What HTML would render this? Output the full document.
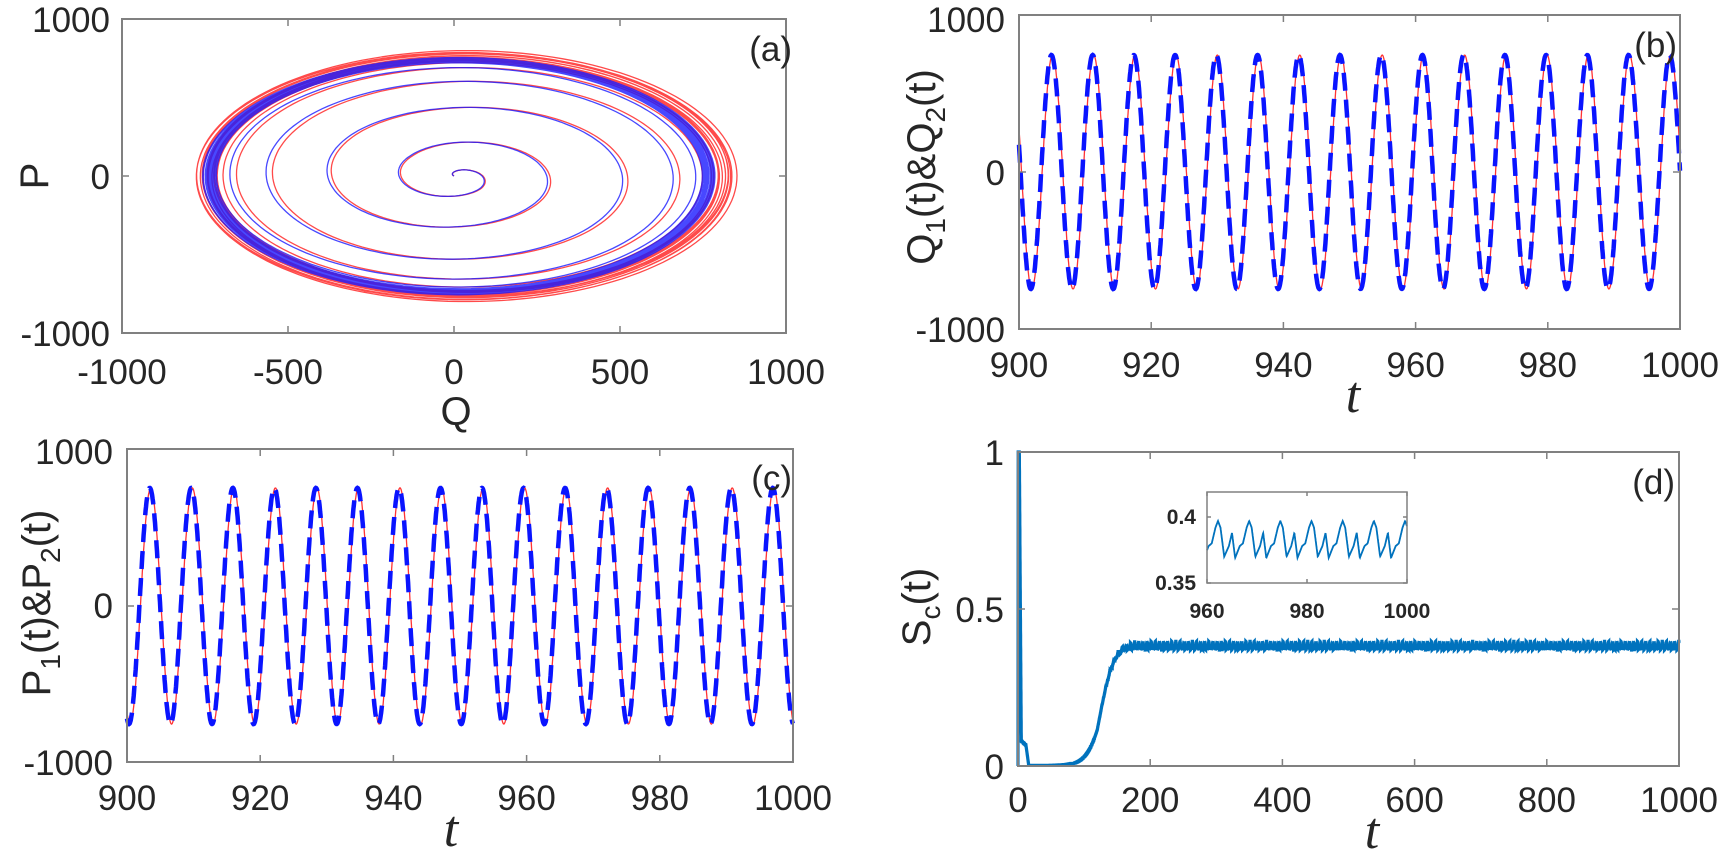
<!DOCTYPE html>
<html><head><meta charset="utf-8"><style>
html,body{margin:0;padding:0;background:#fff}
svg{display:block}
text{font-family:"Liberation Sans",sans-serif;fill:#262626}
.tk{font-size:35px}
.lab{font-size:40px}
.it{font-family:"Liberation Serif",serif;font-style:italic;font-size:52px}
.ins{font-size:21px;font-weight:bold}
</style></head><body>
<svg id="s" width="1720" height="859" viewBox="0 0 1720 859" xmlns="http://www.w3.org/2000/svg">
<g id="plots"></g>
<g fill="none" stroke="#808080" stroke-width="2">
<rect x="122" y="19" width="664" height="314"/>
<rect x="1019" y="15" width="661" height="314"/>
<rect x="127" y="449" width="666" height="313"/>
<rect x="1018" y="452" width="661" height="314"/>
<rect x="1207" y="492" width="200" height="91" stroke-width="1.5"/>
</g>
<g id="ticks" stroke="#808080" stroke-width="1.5"></g>
<text class="tk" x="110" y="32" text-anchor="end">1000</text>
<text class="tk" x="110" y="189" text-anchor="end">0</text>
<text class="tk" x="110" y="346" text-anchor="end">-1000</text>
<text class="tk" x="122" y="384" text-anchor="middle">-1000</text>
<text class="tk" x="288" y="384" text-anchor="middle">-500</text>
<text class="tk" x="454" y="384" text-anchor="middle">0</text>
<text class="tk" x="620" y="384" text-anchor="middle">500</text>
<text class="tk" x="786" y="384" text-anchor="middle">1000</text>
<text class="lab" x="456" y="425" text-anchor="middle">Q</text>
<text class="lab" transform="translate(48,176) rotate(-90)" text-anchor="middle">P</text>
<text class="tk" x="792" y="61" text-anchor="end">(a)</text>
<text class="tk" x="1005" y="32" text-anchor="end">1000</text>
<text class="tk" x="1005" y="185" text-anchor="end">0</text>
<text class="tk" x="1005" y="342" text-anchor="end">-1000</text>
<g id="bx"></g>
<text class="it" x="1353" y="412" text-anchor="middle">t</text>
<text class="lab" transform="translate(935,167) rotate(-90)" text-anchor="middle">Q<tspan font-size="28" dy="10">1</tspan><tspan dy="-10">(t)&amp;Q</tspan><tspan font-size="28" dy="10">2</tspan><tspan dy="-10">(t)</tspan></text>
<text class="tk" x="1677" y="57" text-anchor="end">(b)</text>
<text class="tk" x="113" y="464" text-anchor="end">1000</text>
<text class="tk" x="113" y="618" text-anchor="end">0</text>
<text class="tk" x="113" y="775" text-anchor="end">-1000</text>
<g id="cx"></g>
<text class="it" x="451" y="846" text-anchor="middle">t</text>
<text class="lab" transform="translate(50,603) rotate(-90)" text-anchor="middle">P<tspan font-size="28" dy="10">1</tspan><tspan dy="-10">(t)&amp;P</tspan><tspan font-size="28" dy="10">2</tspan><tspan dy="-10">(t)</tspan></text>
<text class="tk" x="792" y="490" text-anchor="end">(c)</text>
<text class="tk" x="1004" y="465" text-anchor="end">1</text>
<text class="tk" x="1004" y="622" text-anchor="end">0.5</text>
<text class="tk" x="1004" y="779" text-anchor="end">0</text>
<g id="dx"></g>
<text class="it" x="1372" y="848" text-anchor="middle">t</text>
<text class="lab" transform="translate(930,607) rotate(-90)" text-anchor="middle">S<tspan font-size="28" dy="10">c</tspan><tspan dy="-10">(t)</tspan></text>
<text class="tk" x="1675" y="494" text-anchor="end">(d)</text>
<text class="ins" x="1196" y="524" text-anchor="end">0.4</text>
<text class="ins" x="1196" y="590" text-anchor="end">0.35</text>
<text class="ins" x="1207" y="618" text-anchor="middle">960</text>
<text class="ins" x="1307" y="618" text-anchor="middle">980</text>
<text class="ins" x="1407" y="618" text-anchor="middle">1000</text>
</svg>
<script>
var NS="http://www.w3.org/2000/svg";
var P=document.getElementById("plots"),T=document.getElementById("ticks");
function el(par,tag,at){var e=document.createElementNS(NS,tag);for(var k in at)e.setAttribute(k,at[k]);par.appendChild(e);return e;}
function path(pts,at){var d="M"+pts.map(function(p){return p[0].toFixed(1)+","+p[1].toFixed(1)}).join("L");at.d=d;at.fill="none";return el(P,"path",at);}
function txt(id,x,y,s){var t=el(document.getElementById(id),"text",{x:x,y:y,"text-anchor":"middle","class":"tk"});t.textContent=s;}
function xt(x,y0,y1,L){el(T,"line",{x1:x,y1:y1,x2:x,y2:y1-L});el(T,"line",{x1:x,y1:y0,x2:x,y2:y0+L});}
function yt(y,x0,x1,L){el(T,"line",{x1:x0,y1:y,x2:x0+L,y2:y});el(T,"line",{x1:x1,y1:y,x2:x1-L,y2:y});}
[122,288,454,620,786].forEach(function(x){xt(x,19,333,7)});[19,176,333].forEach(function(y){yt(y,122,786,7)});
for(var i=0;i<=5;i++){var x=1019+i*132.2;xt(x,15,329,7);txt("bx",x,377,String(900+20*i));}
[15,172,329].forEach(function(y){yt(y,1019,1680,7)});
for(var i=0;i<=5;i++){var x=127+i*133.2;xt(x,449,762,7);txt("cx",x,810,String(900+20*i));}
[449,606,762].forEach(function(y){yt(y,127,793,7)});
for(var i=0;i<=5;i++){var x=1018+i*132.2;xt(x,452,766,7);txt("dx",x,812,String(200*i));}
[452,609,766].forEach(function(y){yt(y,1018,1679,7)});
[1207,1307,1407].forEach(function(x){xt(x,492,583,4)});[517,583].forEach(function(y){yt(y,1207,1407,4)});
function ax(q){return 454+q*0.332} function ay(p){return 176-p*0.157}
function rAt(n,kind){var tb=[[0,0],[0.5,110],[1,190],[1.5,300],[2,420],[2.5,520],[3,600],[3.5,660],[4,700],[5,735],[6,750]];
 if(n<6){for(var i=0;i<tb.length-1;i++)if(n<=tb[i+1][0]){var f=(n-tb[i][0])/(tb[i+1][0]-tb[i][0]);return tb[i][1]+f*(tb[i+1][1]-tb[i][1]);}}
 if(kind==0)return 752+14*Math.sin(n*0.9)+6*Math.sin(n*2.3);
 return 765+45*Math.max(0,Math.sin(n*0.55))+18*Math.sin(n*1.7);}
function spiral(kind,N){var pts=[];for(var th=0;th<=N*2*Math.PI;th+=0.04){var n=th/(2*Math.PI);var r=rAt(n,kind);var a=Math.PI*0.75-th;var off=(n>3?1:n/3)*(kind?35:15);pts.push([ax(r*Math.cos(a)+off),ay(r*Math.sin(a)*0.98)]);}return pts;}
path(spiral(1,22),{stroke:"#ff2a2a","stroke-width":1.3,"stroke-opacity":0.85});
path(spiral(0,34),{stroke:"#1a1aff","stroke-width":1.3,"stroke-opacity":0.8});
function wave(x0,x1,y0,sc,A,tp,ph){var pts=[];for(var t=900;t<=1000;t+=0.05){pts.push([x0+(t-900)*(x1-x0)/100,y0-sc*A*Math.cos(2*Math.PI*(t-tp)/6.236+ph)]);}return pts;}
path(wave(1019,1680,172,0.157,745,905.06,0),{stroke:"#ff3333","stroke-width":1.3});
path(wave(1019,1680,172,0.157,745,905.06,0.15),{stroke:"#0a14ff","stroke-width":4.5,"stroke-dasharray":"18 9"});
path(wave(127,793,606,0.157,752,903.57,0),{stroke:"#ff3333","stroke-width":1.3});
path(wave(127,793,606,0.157,752,903.57,0.15),{stroke:"#0a14ff","stroke-width":4.5,"stroke-dasharray":"18 9"});
var kp=[[0,0.397],[0.08,0.392],[0.2,0.37],[0.35,0.378],[0.45,0.388],[0.55,0.369],[0.7,0.378],[0.8,0.38],[0.92,0.392],[1,0.397]];
function osc(t){var ph=((t-962.2)/6.236)%1;if(ph<0)ph+=1;for(var i=0;i<kp.length-1;i++)if(ph<=kp[i+1][0]){var f=(ph-kp[i][0])/(kp[i+1][0]-kp[i][0]);return kp[i][1]+f*(kp[i+1][1]-kp[i][1]);}return 0.397;}
function S(t){if(t<2)return 1;if(t<5)return 1-(t-2)/3*0.92;if(t<12)return 0.08-(t-5)*0.002;if(t<16)return 0.066-(t-12)/4*0.06;
 var base=0.383/(1+Math.exp(-(t-130)/12));var m=Math.min(1,Math.max(0,(t-120)/60));return base*(1-m)+m*osc(t)+(t<80?0.002:0);}
function dx(t){return 1018+t*0.661} function dy(s){return 766-s*314}
var pd=[[dx(0),dy(0)],[dx(0.3),dy(1)]];for(var t=0.5;t<=1000;t+=0.05)pd.push([dx(t),dy(S(t))]);
path(pd,{stroke:"#0072bd","stroke-width":3.2});
var pi=[];for(var t=960;t<=1000;t+=0.05)pi.push([1207+(t-960)*5,583-(osc(t)-0.35)*1320]);
path(pi,{stroke:"#0072bd","stroke-width":1.8});
</script>
</body></html>
